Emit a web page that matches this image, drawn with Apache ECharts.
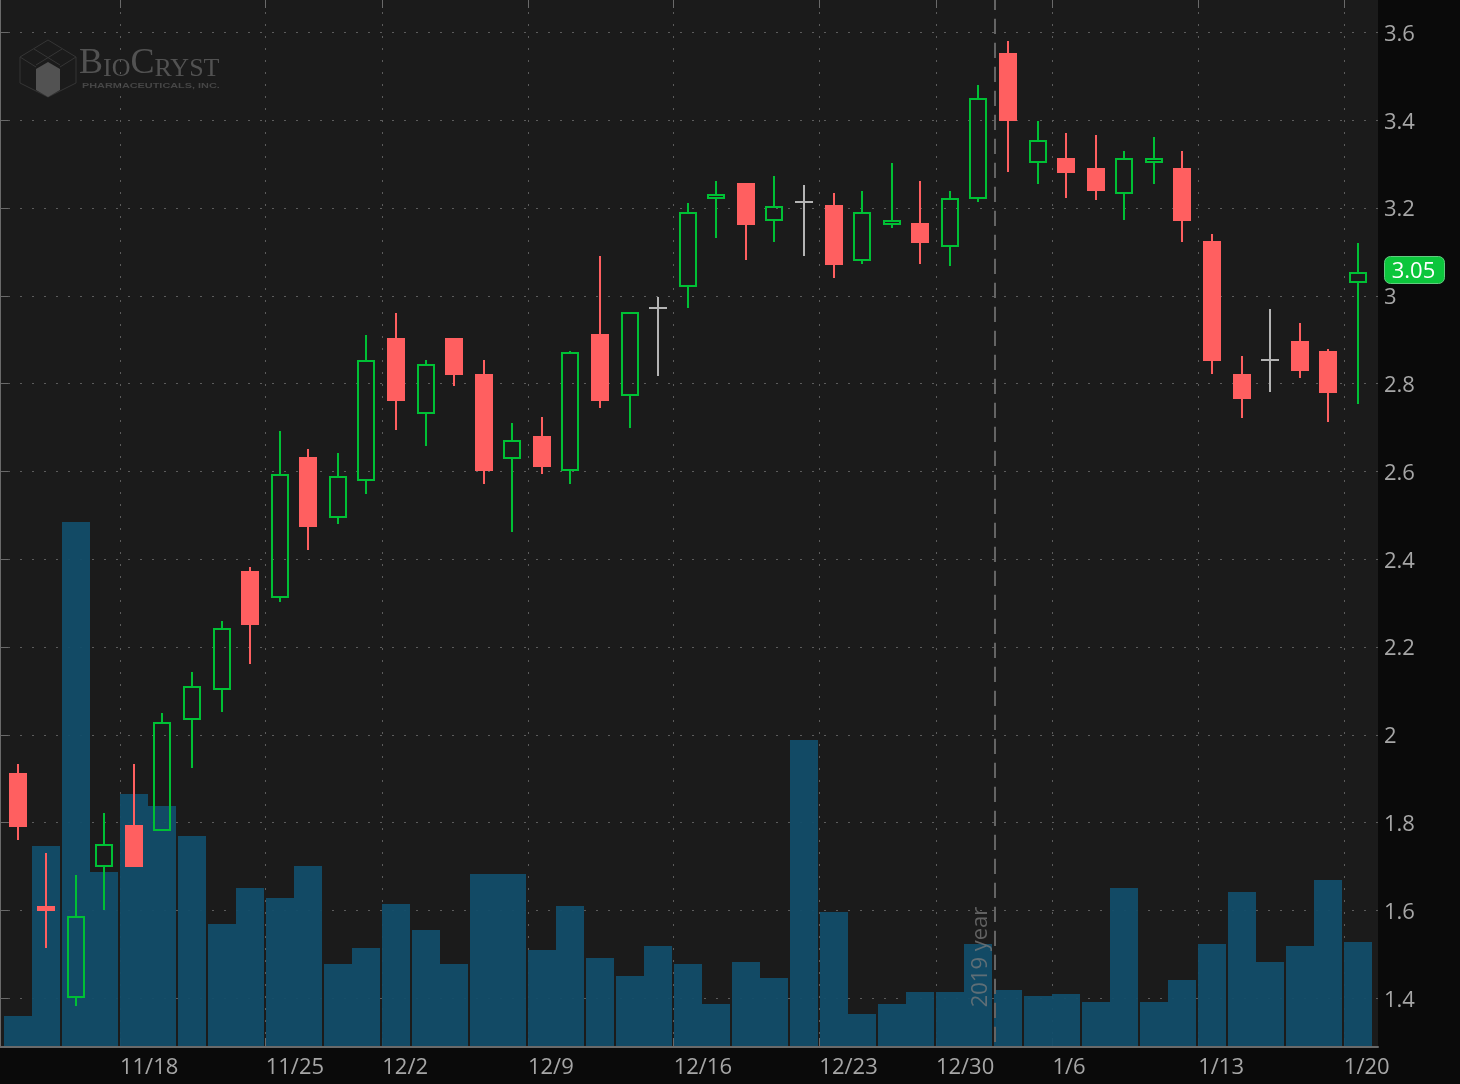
<!DOCTYPE html>
<html>
<head>
<meta charset="utf-8">
<style>
  html, body { margin: 0; padding: 0; background: #0a0a0a; }
  #main { width: 1460px; height: 1084px; }
</style>
<script src="https://cdn.jsdelivr.net/npm/echarts@6/dist/echarts.min.js"></script>
</head>
<body>
<div id="main"></div>
<script>
var dates = ['11/12','11/13','11/14','11/15','11/18','11/19','11/20','11/21','11/22','11/25','11/26','11/27','11/29',
  '12/2','12/3','12/4','12/5','12/6','12/9','12/10','12/11','12/12','12/13','12/16','12/17','12/18','12/19','12/20',
  '12/23','12/24','12/26','12/27','12/30','12/31','1/2','1/3','1/6','1/7','1/8','1/9','1/10','1/13','1/14','1/15','1/16','1/17','1/20'];
var dateTicks = ['11/18','11/25','12/2','12/9','12/16','12/23','12/30','1/6','1/13','1/20'];
var priceTicks = [1.4,1.6,1.8,2,2.2,2.4,2.6,2.8,3,3.2,3.4,3.6];
var yearBreak = '1/2';
var lastPrice = 3.05;

var opens = [1.913,1.611,1.40,1.70,1.794,1.782,2.034,2.103,2.373,2.311,2.633,2.493,2.579,2.905,2.73,2.905,2.823,2.629,2.682,2.602,2.914,2.771,2.972,3.021,3.221,3.257,3.171,3.213,3.206,3.08,3.162,3.165,3.112,3.221,3.553,3.303,3.315,3.292,3.231,3.303,3.292,3.124,2.823,2.853,2.897,2.874,3.03];
var closes = [1.79,1.599,1.588,1.752,1.699,2.03,2.112,2.243,2.251,2.595,2.473,2.59,2.854,2.761,2.845,2.819,2.601,2.672,2.61,2.872,2.761,2.963,2.972,3.191,3.232,3.161,3.205,3.213,3.07,3.191,3.173,3.12,3.223,3.451,3.398,3.355,3.279,3.238,3.314,3.314,3.17,2.851,2.765,2.853,2.828,2.778,3.055];
var lows = [1.761,1.514,1.383,1.601,1.699,1.782,1.925,2.053,2.162,2.303,2.421,2.481,2.549,2.695,2.658,2.795,2.572,2.462,2.594,2.572,2.745,2.699,2.817,2.973,3.132,3.082,3.123,3.09,3.041,3.073,3.155,3.073,3.068,3.214,3.282,3.255,3.223,3.219,3.173,3.255,3.123,2.822,2.722,2.781,2.812,2.713,2.754];
var highs = [1.933,1.732,1.681,1.823,1.933,2.05,2.144,2.26,2.383,2.693,2.652,2.643,2.912,2.962,2.853,2.905,2.853,2.711,2.725,2.875,3.09,2.963,2.998,3.212,3.262,3.257,3.272,3.253,3.235,3.24,3.303,3.262,3.24,3.481,3.581,3.399,3.372,3.367,3.331,3.363,3.331,3.14,2.862,2.971,2.939,2.88,3.121];
// volume in millions of shares, the picture has no scale for it
var volumes = [0.75,5,13.1,4.35,6.3,6,5.25,3.05,3.95,3.7,4.5,2.05,2.45,3.55,2.9,2.05,4.3,4.3,2.4,3.5,2.2,1.75,2.5,2.05,1.05,2.1,1.7,7.65,3.35,0.8,1.05,1.35,1.35,2.55,1.4,1.25,1.3,1.1,3.95,1.1,1.65,2.55,3.85,2.1,2.5,4.15,2.6];

var PRICE_MIN = 1.2914, PRICE_MAX = 3.674, VOLUME_MAX = 26.15;
var FONT = '"Open Sans", sans-serif';
var GREEN = '#00c035', RED = '#ff5f60', DOJI = '#b4b4b4', GRID = '#5c5c5c', AXIS = '#6a6a6a', TEXT = '#a6a6a6', LOGO = '#525252';

function isWeekStart(index, value) {
  return dateTicks.indexOf(value) >= 0;
}

// the original sits on even pixels, so some volume bars have a gap and some touch
function barLeft(center) {
  return 2 * Math.floor((center - 13.77) / 2);
}

function renderVolume(params, api) {
  var top = api.coord([api.value(0), api.value(1)]);
  var base = api.coord([api.value(0), 0]);
  return {
    type: 'rect',
    shape: { x: barLeft(top[0]), y: top[1], width: 28, height: base[1] - top[1] },
    style: { fill: 'rgb(17,78,107)', opacity: 0.93 }
  };
}

// candlestick series snaps to half pixels and blurs 2px strokes, so draw them here
function renderCandle(params, api) {
  var i = api.value(0);
  var open = api.value(1), close = api.value(2);
  var color = close > open ? GREEN : (close < open ? RED : DOJI);
  var x = barLeft(api.coord([i, open])[0]) + 14;
  var bodyTop = Math.round(api.coord([i, Math.max(open, close)])[1]);
  var bodyBottom = Math.round(api.coord([i, Math.min(open, close)])[1]);
  var high = Math.round(api.coord([i, api.value(4)])[1]);
  var low = Math.round(api.coord([i, api.value(3)])[1]);
  var children = [
    { type: 'rect', shape: { x: x - 1, y: high, width: 2, height: bodyTop - high }, style: { fill: color } },
    { type: 'rect', shape: { x: x - 1, y: bodyBottom, width: 2, height: low - bodyBottom }, style: { fill: color } }
  ];
  if (close > open) {
    children.push({ type: 'rect',
      shape: { x: x - 8, y: bodyTop + 1, width: 16, height: bodyBottom - bodyTop - 2 },
      style: { fill: 'none', stroke: color, lineWidth: 2 } });
  } else if (close < open) {
    children.push({ type: 'rect',
      shape: { x: x - 9, y: bodyTop, width: 18, height: bodyBottom - bodyTop },
      style: { fill: color } });
  } else {
    children.push({ type: 'rect',
      shape: { x: x - 9, y: bodyTop - 1, width: 18, height: 2 },
      style: { fill: color } });
  }
  return { type: 'group', children: children };
}

// dashed divider on the left edge of the first trading day of the year
function renderYearLine(params, api) {
  var x = Math.round(api.coord([api.value(0), PRICE_MAX])[0] - api.size([1, 0])[0] / 2) + 1;
  return {
    type: 'line',
    shape: { x1: x, y1: api.coord([api.value(0), PRICE_MAX])[1] - 5.3, x2: x, y2: api.coord([api.value(0), PRICE_MIN])[1] },
    style: { stroke: '#646464', lineWidth: 2, lineDash: [15.3, 8.7] }
  };
}

var chart = echarts.init(document.getElementById('main'));

var option = {
  backgroundColor: '#0a0a0a',
  animation: false,
  textStyle: { fontFamily: FONT },
  grid: [
    { left: 0, top: 0, width: 1378, height: 1046, show: true, backgroundColor: '#1b1b1b', borderWidth: 0 },
    { left: 3.4, top: 0, width: 1369.6, height: 1046 }
  ],
  xAxis: [
    // frame for the whole plot
    { type: 'value', gridIndex: 0, min: 0, max: 1, position: 'bottom', offset: 1,
      axisLine: { show: true, lineStyle: { color: AXIS, width: 2 } },
      axisTick: { show: false }, axisLabel: { show: false }, splitLine: { show: false } },
    // bands for candles and volume
    { type: 'category', gridIndex: 1, data: dates, show: false },
    // same width, but the points are the left edges of the bands, labels start there
    { type: 'category', gridIndex: 1, data: dates.concat(['']), boundaryGap: false, position: 'bottom',
      axisLine: { show: false },
      axisTick: { show: true, inside: true, length: 8, interval: isWeekStart, lineStyle: { color: AXIS, width: 1 } },
      axisLabel: { interval: isWeekStart, align: 'left', margin: 11, fontSize: 22, color: TEXT, fontFamily: FONT, hideOverlap: false },
      splitLine: { show: true, interval: isWeekStart, lineStyle: { color: GRID, width: 1, type: [2, 10] } } },
    { type: 'category', gridIndex: 1, data: dates.concat(['']), boundaryGap: false, position: 'top',
      axisLine: { show: false },
      axisTick: { show: true, inside: true, length: 8, interval: isWeekStart, lineStyle: { color: AXIS, width: 1 } },
      axisLabel: { show: false }, splitLine: { show: false } }
  ],
  yAxis: [
    { type: 'value', gridIndex: 0, position: 'right', offset: 1, min: PRICE_MIN, max: PRICE_MAX,
      axisLine: { show: true, lineStyle: { color: AXIS, width: 2 } },
      axisTick: { show: true, inside: true, length: 8, customValues: priceTicks, lineStyle: { color: AXIS, width: 1 } },
      axisLabel: {
        customValues: priceTicks,
        margin: 5,
        formatter: function (v) { return '{v|' + v + '}'; },
        rich: { v: { fontSize: 22, color: TEXT, fontFamily: FONT, padding: [4, 0, 0, 0] } }
      },
      splitLine: { show: true, lineStyle: { color: GRID, width: 1, type: [2, 10], dashOffset: 4 } } },
    { type: 'value', gridIndex: 0, position: 'left', min: PRICE_MIN, max: PRICE_MAX,
      axisLine: { show: false },
      axisTick: { show: true, inside: true, length: 8, customValues: priceTicks, lineStyle: { color: AXIS, width: 1 } },
      axisLabel: { show: false }, splitLine: { show: false } },
    { type: 'value', gridIndex: 1, min: PRICE_MIN, max: PRICE_MAX, show: false },
    { type: 'value', gridIndex: 1, min: 0, max: VOLUME_MAX, show: false }
  ],
  series: [
    {
      name: 'Volume',
      type: 'custom',
      xAxisIndex: 1,
      yAxisIndex: 3,
      z: 1,
      silent: true,
      renderItem: renderVolume,
      encode: { x: 0, y: 1 },
      data: volumes.map(function (v, i) { return [i, v]; })
    },
    {
      name: 'Price',
      type: 'custom',
      xAxisIndex: 1,
      yAxisIndex: 2,
      z: 3,
      silent: true,
      renderItem: renderCandle,
      encode: { x: 0, y: [1, 2, 3, 4] },
      data: dates.map(function (d, i) { return [i, opens[i], closes[i], lows[i], highs[i]]; })
    },
    {
      name: 'Year',
      type: 'custom',
      xAxisIndex: 1,
      yAxisIndex: 2,
      z: 4,
      silent: true,
      clip: false,
      renderItem: renderYearLine,
      encode: { x: 0 },
      data: [[dates.indexOf(yearBreak)]]
    }
  ],
  graphic: [
    { type: 'text', z: 10, x: 981, y: 957, rotation: Math.PI / 2, silent: true,
      style: { text: '2019 year', font: '22px ' + FONT, fill: 'rgba(125,125,125,0.72)', align: 'center', verticalAlign: 'middle' } },
    // last price tag
    { type: 'rect', z: 10, silent: true, shape: { x: 1384.5, y: 256.5, width: 60, height: 27, r: 6 },
      style: { fill: '#0cc63c', stroke: '#62cc7f', lineWidth: 1 } },
    { type: 'text', z: 11, x: 1413.5, y: 272, silent: true,
      style: { text: lastPrice.toFixed(2), font: '22px ' + FONT, fill: '#ffffff', align: 'center', verticalAlign: 'middle' } },
    // watermark
    { type: 'polygon', z: 0, silent: true, shape: { points: [[48, 40], [76, 57], [76, 83], [48, 97], [20, 83], [20, 57]] },
      style: { fill: 'none', stroke: '#353535', lineWidth: 1 } },
    { type: 'polyline', z: 0, silent: true, shape: { points: [[34, 49], [60, 65]] }, style: { stroke: '#353535', lineWidth: 1 } },
    { type: 'polyline', z: 0, silent: true, shape: { points: [[62, 49], [36, 65]] }, style: { stroke: '#353535', lineWidth: 1 } },
    { type: 'polyline', z: 0, silent: true, shape: { points: [[20, 57], [36, 67]] }, style: { stroke: '#353535', lineWidth: 1 } },
    { type: 'polyline', z: 0, silent: true, shape: { points: [[76, 57], [60, 67]] }, style: { stroke: '#353535', lineWidth: 1 } },
    { type: 'polygon', z: 0, silent: true, shape: { points: [[48, 62], [60, 69], [60, 90], [48, 97], [36, 90], [36, 69]] },
      style: { fill: LOGO } },
    { type: 'text', z: 0, x: 79, y: 82, silent: true,
      style: {
        text: '{a|B}{b|IO}{a|C}{b|RYST}',
        verticalAlign: 'bottom',
        rich: {
          a: { font: '36px "Liberation Serif"', fill: LOGO, verticalAlign: 'bottom' },
          b: { font: '26px "Liberation Serif"', fill: LOGO, verticalAlign: 'bottom' }
        }
      } },
    { type: 'text', z: 0, x: 82, y: 85.5, scaleX: 1.36, silent: true,
      style: { text: 'PHARMACEUTICALS, INC.', font: 'bold 8px "Liberation Sans"', fill: '#464646', verticalAlign: 'middle' } }
  ]
};

chart.setOption(option);
</script>
</body>
</html>
